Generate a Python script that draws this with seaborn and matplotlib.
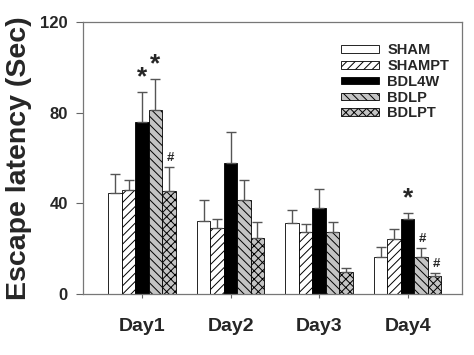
import numpy as np
import pandas as pd
import seaborn as sns
import matplotlib.pyplot as plt

# 数据
days = ['Day1', 'Day2', 'Day3', 'Day4']
groups = ['SHAM', 'SHAMPT', 'BDL4W', 'BDLP', 'BDLPT']
sham = [44.6, 32.3, 31.5, 16.5]
shampt = [46.0, 29.3, 27.3, 24.3]
bdl4w = [76.0, 57.6, 37.8, 33.0]
bdlp = [81.0, 41.5, 27.2, 16.5]
bdlpt = [45.3, 24.8, 9.8, 7.9]
sham_err = [8.4, 9.2, 5.5, 4.4]
shampt_err = [4.4, 3.7, 3.6, 4.5]
bdl4w_err = [13.0, 14.0, 8.5, 2.6]
bdlp_err = [13.7, 8.8, 4.7, 3.7]
bdlpt_err = [10.7, 7.1, 1.7, 1.2]
# 显著性标记: (组, 天, 符号)
marks = [('BDL4W', 'Day1', '*'), ('BDLP', 'Day1', '*'), ('BDL4W', 'Day4', '*'),
         ('BDLPT', 'Day1', '#'), ('BDLP', 'Day4', '#'), ('BDLPT', 'Day4', '#')]

means = [sham, shampt, bdl4w, bdlp, bdlpt]
errs = [sham_err, shampt_err, bdl4w_err, bdlp_err, bdlpt_err]
df = pd.DataFrame({
    'day': days * len(groups),
    'group': np.repeat(groups, len(days)),
    'value': np.concatenate(means),
})

sns.set_style('white')
plt.rcParams['font.family'] = ['Liberation Sans', 'DejaVu Sans']
plt.rcParams['hatch.linewidth'] = 0.7

fig = plt.figure(figsize=(4.74, 3.55), dpi=100)
ax = fig.add_axes([0.175, 0.172, 0.8, 0.766])

sns.barplot(data=df, x='day', y='value', hue='group', order=days, hue_order=groups,
            errorbar=None, width=0.76, gap=0, legend=False, ax=ax)

bars = list(ax.containers)
faces = ['white', 'white', 'black', '#c4c4c4', '#c4c4c4']
hatches = [None, '////', None, '\\\\\\\\', 'xxxx']
for i, cont in enumerate(bars):
    cont.set_label(groups[i])
    for p in cont.patches:
        p.set_facecolor(faces[i])
        p.set_edgecolor('black')
        p.set_linewidth(0.6)
        if hatches[i]:
            p.set_hatch(hatches[i])
    xs = [p.get_x() + p.get_width() / 2 for p in cont.patches]
    ys = [p.get_height() for p in cont.patches]
    ax.errorbar(xs, ys, yerr=[np.zeros(len(ys)), errs[i]], fmt='none',
                ecolor='#555555', elinewidth=1, capsize=3.5, capthick=1, zorder=1)

for g, d, s in marks:
    gi, di = groups.index(g), days.index(d)
    p = bars[gi].patches[di]
    top = means[gi][di] + errs[gi][di]
    xc = p.get_x() + p.get_width() / 2
    if s == '*':
        ax.text(xc, top + 1.5, s, ha='center', va='bottom', fontsize=19, fontweight='bold')
    else:
        ax.text(xc + 0.02, top + 1.5, s, ha='center', va='bottom', fontsize=9.5, fontweight='bold')

ax.set_xlim(-0.667, 3.616)
ax.set_ylim(0, 120)
ax.set_yticks([0, 40, 80, 120])
ax.set_xlabel('')
ax.set_ylabel('Escape latency (Sec)', fontsize=20.5, fontweight='bold', labelpad=6)
for lab in ax.get_xticklabels():
    lab.set_fontweight('bold')
    lab.set_fontsize(14)
for lab in ax.get_yticklabels():
    lab.set_fontweight('bold')
    lab.set_fontsize(12)
ax.tick_params(axis='y', direction='out', length=5, width=0.8, color='#666666', left=True, pad=6)
ax.tick_params(axis='x', direction='out', length=3, width=0.8, color='#666666', bottom=True, pad=14)
for sp in ax.spines.values():
    sp.set_color('#777777')
    sp.set_linewidth(0.9)

leg = ax.legend(handles=bars, loc='upper right', frameon=False,
                bbox_to_anchor=(1.0, 0.97), handlelength=2.6, handleheight=0.4,
                handletextpad=0.55, labelspacing=0.12,
                prop={'weight': 'bold', 'size': 10.5})

plt.savefig('out.png', dpi=100)
